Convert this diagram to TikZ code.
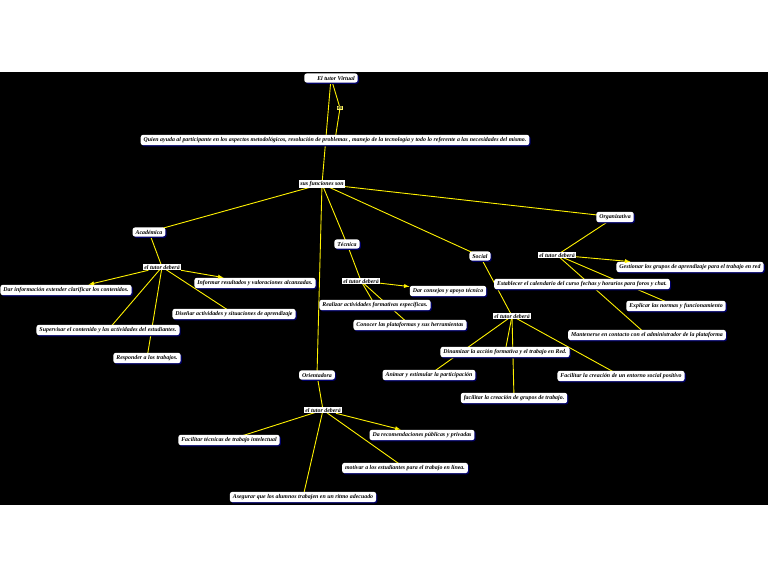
\documentclass[tikz,border=0pt]{standalone}
\usepackage{fontspec}
\setmainfont{Liberation Serif}
\usetikzlibrary{shadows}
\pgfdeclarelayer{bg}\pgfsetlayers{bg,main}
\begin{document}
\begin{tikzpicture}[x=1pt,y=-1pt,
 box/.style={fill=white,rounded corners=2.5pt,inner xsep=3pt,inner ysep=2.5pt,font=\fontsize{5.9}{7}\selectfont\bfseries\itshape,
   drop shadow={shadow xshift=1.2pt,shadow yshift=-1.2pt,fill=blue!40!black,opacity=1}},
 lbl/.style={fill=white,inner sep=1pt,font=\fontsize{5.9}{7}\selectfont\bfseries\itshape},
 ln/.style={draw=yellow,line width=0.9pt},
 ar/.style={ln,-latex}]
\useasboundingbox (0,0) rectangle (768,578);
\node[box] (t) at (331,78) {\hspace{10pt}El tutor Virtual\hspace{10pt}};
\node[lbl,fill=yellow!60!white] (es) at (340,108) {es};
\node[box] (q) at (335,140) {Quien ayuda al participante en los aspectos metodológicos, resolución de problemas , manejo de la tecnología y todo lo referente a las necesidades del mismo.};
\node[lbl] (s) at (322,184) {sus funciones son};
\node[box] (ac) at (149,232) {Académica};
\node[box] (te) at (347,244) {Técnica};
\node[box] (so) at (480,256) {Social};
\node[box] (or) at (615,217) {Organizativa};
\node[box] (oi) at (317,375) {Orientadora};
\node[lbl] (a1) at (162,267) {el tutor deberá};
\node[box] (a2) at (66,290) {Dar información extender clarificar los contenidos.};
\node[box] (a3) at (255,283) {Informar resultados y valoraciones alcanzadas.};
\node[box] (a4) at (234,314) {Diseñar actividades y situaciones de aprendizaje};
\node[box] (a5) at (108,330) {Supervisar el contenido y las actividades del estudiantes.};
\node[box] (a6) at (147,358) {Responder a los trabajos.};
\node[lbl] (t1) at (361,281) {el tutor deberá};
\node[box] (t2) at (448,291) {Dar consejos y apoyo técnico};
\node[box] (t3) at (375,305) {Realizar actividades formativas específicas.};
\node[box] (t4) at (410,325) {Conocer las plataformas y sus herramientas};
\node[lbl] (s1) at (512,316) {el tutor deberá};
\node[box] (s2) at (582,284) {Establecer el calendario del curso fechas y horarios para foros y chat.};
\node[box] (s3) at (505,352) {Dinamizar la acción formativa y el trabajo en Red.};
\node[box] (s4) at (429,375) {Animar y estimular la participación};
\node[box] (s5) at (514,398) {facilitar la creación de grupos de trabajo.};
\node[box] (s6) at (621,376) {Facilitar la creación de un entorno social positivo};
\node[lbl] (o1) at (557,255) {el tutor deberá};
\node[box] (o2) at (690,267) {Gestionar los grupos de aprendizaje para el trabajo en red};
\node[box] (o3) at (676,306) {Explicar las normas y funcionamiento};
\node[box] (o4) at (647,335) {Mantenerse en contacto con el administrador de la plataforma};
\node[lbl] (i1) at (323,410) {el tutor deberá};
\node[box] (i2) at (229,440) {Facilitar técnicas de trabajo intelectual};
\node[box] (i3) at (422,435) {Da recomendaciones públicas y privadas};
\node[box] (i4) at (405,468) {motivar a los estudiantes para el trabajo en línea.};
\node[box] (i5) at (303,497) {Asegurar que los alumnos trabajen en un ritmo adecuado};
\begin{pgfonlayer}{bg}
\fill[white] (0,0) rectangle (768,578);
\fill[black] (0,72) rectangle (768,505);
\draw[ln] (t.center) -- (es.center) -- (q.center);
\draw[ln] (t.center) -- (s.center);
\foreach \n in {ac,te,so,or,oi} \draw[ln] (s.center) -- (\n.center);
\draw[ln] (ac.center) -- (a1.center);
\foreach \n in {a4,a5,a6} \draw[ln] (a1.center) -- (\n.center);
\draw[ln] (te.center) -- (t1.center);
\draw[ln] (t1.center) -- (t3.center); \draw[ln] (t1.center) -- (t4.center);
\draw[ln] (so.center) -- (s1.center);
\foreach \n in {s3,s4,s5,s6} \draw[ln] (s1.center) -- (\n.center);
\draw[ln] (or.center) -- (o1.center);
\foreach \n in {o3,o4} \draw[ln] (o1.center) -- (\n.center);
\draw[ln] (oi.center) -- (i1.center);
\foreach \n in {i2,i4,i5} \draw[ln] (i1.center) -- (\n.center);
\end{pgfonlayer}
\draw[ar] (a1) -- (a2);
\draw[ar] (a1) -- (a3);
\draw[ar] (t1) -- (t2);
\draw[ar] (o1) -- (o2);
\draw[ar] (i1) -- (i3);
\end{tikzpicture}
\end{document}
